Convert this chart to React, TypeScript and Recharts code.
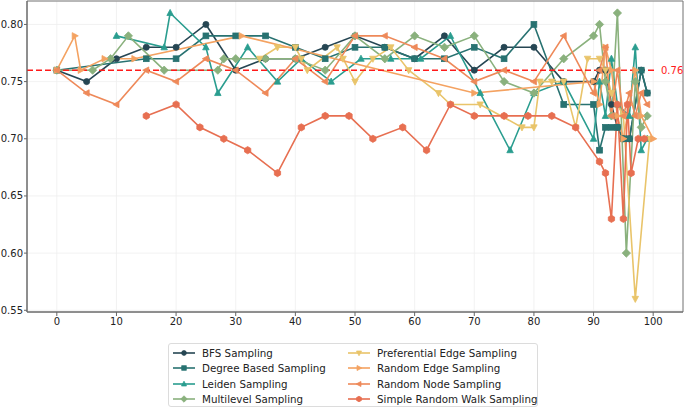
import React from 'react'
import {
  LineChart,
  Line,
  XAxis,
  YAxis,
  CartesianGrid,
  ReferenceLine,
  ReferenceArea,
} from 'recharts'

// ── Data ───────────────────────────────────────────────────
const xTicks = [0, 10, 20, 30, 40, 50, 60, 70, 80, 90, 100]
const yTicks = [0.55, 0.6, 0.65, 0.7, 0.75, 0.8]
const baseline = 0.76

const bfsX = [0, 5, 10, 15, 20, 25, 30, 35, 40, 45, 50, 55, 60, 65, 70, 75, 80, 85, 90, 91, 92, 93, 94, 95, 96, 98, 99]
const bfsY = [0.76, 0.75, 0.77, 0.78, 0.78, 0.8, 0.76, 0.77, 0.77, 0.78, 0.79, 0.78, 0.77, 0.79, 0.76, 0.78, 0.78, 0.75, 0.75, 0.76, 0.76, 0.73, 0.71, 0.7, 0.7, 0.76, 0.74]

const degreeX = [0, 15, 20, 25, 30, 35, 40, 45, 50, 55, 60, 65, 70, 75, 80, 85, 90, 91, 92, 93, 94, 95, 96, 98, 99]
const degreeY = [0.76, 0.77, 0.77, 0.79, 0.79, 0.79, 0.78, 0.77, 0.78, 0.78, 0.77, 0.77, 0.78, 0.77, 0.8, 0.73, 0.73, 0.69, 0.71, 0.71, 0.71, 0.7, 0.7, 0.76, 0.74]

const leidenX = [10, 18, 19, 25, 27, 32, 37, 41, 46, 51, 56, 61, 66, 71, 76, 80, 85, 90, 91, 92, 93, 94, 96, 97, 98, 99]
const leidenY = [0.79, 0.78, 0.81, 0.78, 0.74, 0.78, 0.75, 0.77, 0.75, 0.77, 0.77, 0.77, 0.79, 0.74, 0.69, 0.74, 0.75, 0.7, 0.75, 0.72, 0.77, 0.73, 0.72, 0.78, 0.69, 0.7]

const multiX = [0, 6, 9, 12, 18, 27, 28, 30, 35, 40, 45, 50, 55, 60, 65, 70, 75, 80, 85, 90, 91, 92, 93, 94, 95.5, 97, 98, 99]
const multiY = [0.76, 0.76, 0.77, 0.79, 0.76, 0.76, 0.77, 0.77, 0.77, 0.77, 0.76, 0.79, 0.77, 0.79, 0.78, 0.79, 0.75, 0.74, 0.77, 0.79, 0.8, 0.75, 0.72, 0.81, 0.6, 0.75, 0.71, 0.72]

const prefX = [34, 37, 40, 41, 42, 47, 48, 50, 53, 56, 59, 64, 66, 71, 78, 80, 81, 83, 85, 87, 89, 91, 92, 93, 95, 97, 99.4]
const prefY = [0.77, 0.78, 0.78, 0.77, 0.76, 0.78, 0.77, 0.75, 0.77, 0.78, 0.76, 0.74, 0.73, 0.73, 0.71, 0.71, 0.75, 0.75, 0.75, 0.71, 0.77, 0.77, 0.76, 0.74, 0.72, 0.56, 0.7]

const redgeX = [0, 3, 4, 8, 13, 31, 70, 90, 91, 92, 93, 94, 95, 96, 97, 98, 100]
const redgeY = [0.76, 0.79, 0.76, 0.77, 0.77, 0.79, 0.74, 0.75, 0.73, 0.78, 0.76, 0.72, 0.7, 0.73, 0.76, 0.72, 0.7]

const rnodeX = [0, 5, 10, 15, 20, 25, 30, 35, 40, 45, 50, 55, 60, 65, 70, 75, 80, 85, 90, 91, 92, 93, 94, 95, 96, 97, 98, 99]
const rnodeY = [0.76, 0.74, 0.73, 0.76, 0.75, 0.77, 0.76, 0.74, 0.77, 0.75, 0.79, 0.79, 0.78, 0.77, 0.75, 0.76, 0.75, 0.79, 0.74, 0.76, 0.78, 0.72, 0.76, 0.72, 0.74, 0.72, 0.74, 0.73]

const srwX = [15, 20, 24, 28, 32, 37, 41, 45, 49, 53, 58, 62, 66, 70, 75, 79, 83, 87, 91, 92, 93, 94, 95, 95.7, 96.3, 97.5, 98.5]
const srwY = [0.72, 0.73, 0.71, 0.7, 0.69, 0.67, 0.71, 0.72, 0.72, 0.7, 0.71, 0.69, 0.73, 0.72, 0.72, 0.72, 0.72, 0.71, 0.68, 0.67, 0.63, 0.73, 0.63, 0.73, 0.67, 0.7, 0.7]

// ── Series config ──────────────────────────────────────────
type Shape = 'circle' | 'square' | 'up' | 'down' | 'right' | 'left' | 'diamond' | 'hex'

const toPoints = (xs: number[], ys: number[]) => xs.map((x, i) => ({ x, y: ys[i] }))

const series: { name: string; color: string; shape: Shape; data: { x: number; y: number }[] }[] = [
  { name: 'BFS Sampling', color: '#264653', shape: 'circle', data: toPoints(bfsX, bfsY) },
  { name: 'Degree Based Sampling', color: '#287271', shape: 'square', data: toPoints(degreeX, degreeY) },
  { name: 'Leiden Sampling', color: '#2a9d8f', shape: 'up', data: toPoints(leidenX, leidenY) },
  { name: 'Multilevel Sampling', color: '#8ab17d', shape: 'diamond', data: toPoints(multiX, multiY) },
  { name: 'Preferential Edge Sampling', color: '#e9c46a', shape: 'down', data: toPoints(prefX, prefY) },
  { name: 'Random Edge Sampling', color: '#f4a261', shape: 'right', data: toPoints(redgeX, redgeY) },
  { name: 'Random Node Sampling', color: '#ee8959', shape: 'left', data: toPoints(rnodeX, rnodeY) },
  { name: 'Simple Random Walk Sampling', color: '#e76f51', shape: 'hex', data: toPoints(srwX, srwY) },
]

const FONT = '"DejaVu Sans", sans-serif'

// ── Marker shapes ──────────────────────────────────────────
function markerEl(shape: Shape, cx: number, cy: number, s: number, color: string, key?: string) {
  const poly = (pts: number[][]) => (
    <polygon key={key} points={pts.map((p) => `${cx + p[0] * s},${cy + p[1] * s}`).join(' ')} fill={color} stroke={color} strokeWidth={0.8} />
  )
  switch (shape) {
    case 'circle':
      return <circle key={key} cx={cx} cy={cy} r={s * 0.85} fill={color} stroke={color} strokeWidth={0.8} />
    case 'square':
      return <rect key={key} x={cx - s * 0.8} y={cy - s * 0.8} width={s * 1.6} height={s * 1.6} fill={color} stroke={color} strokeWidth={0.8} />
    case 'up':
      return poly([[0, -1], [0.9, 0.7], [-0.9, 0.7]])
    case 'down':
      return poly([[0, 1], [0.9, -0.7], [-0.9, -0.7]])
    case 'right':
      return poly([[1, 0], [-0.7, 0.9], [-0.7, -0.9]])
    case 'left':
      return poly([[-1, 0], [0.7, 0.9], [0.7, -0.9]])
    case 'diamond':
      return poly([[0, -1.15], [1.15, 0], [0, 1.15], [-1.15, 0]])
    default:
      return poly([[0, -1], [0.87, -0.5], [0.87, 0.5], [0, 1], [-0.87, 0.5], [-0.87, -0.5]])
  }
}

const makeDot = (shape: Shape, color: string) => (props: any) => {
  const { cx, cy, index } = props
  if (cx == null || cy == null) return <g key={`e-${index}`} />
  return markerEl(shape, cx, cy, 3.6, color, `d-${index}`)
}

// ── Reference label ────────────────────────────────────────
function RefLabel(props: any) {
  const vb = props.viewBox || {}
  const right = (vb.x ?? 27) + (vb.width ?? 656)
  const y = vb.y ?? 71.5
  return (
    <g>
      <rect x={right - 28} y={y - 8} width={27} height={16} fill="#fff" />
      <text x={right - 22} y={y + 3.5} fontSize={10} fill="#ff1a1a" fontFamily={FONT}>
        0.76
      </text>
    </g>
  )
}

// ── Legend ─────────────────────────────────────────────────
function ChartLegend() {
  return (
    <div
      style={{
        position: 'absolute',
        left: 168,
        top: 343,
        width: 370,
        height: 64,
        border: '1px solid #dcdcdc',
        borderRadius: 3,
        background: '#fff',
        boxSizing: 'border-box',
        fontFamily: FONT,
        fontSize: 10.3,
        color: '#222',
      }}
    >
      {series.map((s, i) => {
        const col = Math.floor(i / 4)
        const row = i % 4
        const left = col === 0 ? 3 : 178
        const top = 1 + row * 15.5
        return (
          <div key={s.name} style={{ position: 'absolute', left, top, height: 15, display: 'flex', alignItems: 'center', whiteSpace: 'nowrap' }}>
            <svg width={24} height={10} style={{ marginRight: 6 }}>
              <line x1={1} y1={5} x2={23} y2={5} stroke={s.color} strokeWidth={1.6} />
              {markerEl(s.shape, 12, 5, 2.8, s.color)}
            </svg>
            <span>{s.name}</span>
          </div>
        )
      })}
    </div>
  )
}

// ── Component ──────────────────────────────────────────────
export default function App() {
  const yMin = 0.5485
  const yMax = 0.8205
  return (
    <div style={{ position: 'absolute', left: 0, top: 0, width: 685, height: 409, background: '#fff' }}>
      <LineChart width={685} height={409} margin={{ top: 1, right: 2, left: 0, bottom: 77 }}>
        <CartesianGrid stroke="#efefef" strokeWidth={0.8} />
        <XAxis
          dataKey="x"
          type="number"
          domain={[-5, 105]}
          ticks={xTicks}
          allowDataOverflow
          height={20}
          tickSize={4}
          tickMargin={2}
          stroke="#666"
          tick={{ fontSize: 10, fill: '#222', fontFamily: FONT }}
        />
        <YAxis
          type="number"
          domain={[yMin, yMax]}
          ticks={yTicks}
          allowDataOverflow
          width={27}
          tickSize={3}
          tickMargin={1}
          stroke="#666"
          tickFormatter={(v: number) => v.toFixed(2)}
          tick={{ fontSize: 10, fill: '#222', fontFamily: FONT }}
        />
        <ReferenceArea x1={-5} x2={105} y1={yMin} y2={yMax} fill="none" stroke="#777" strokeWidth={1} />
        {series.map((s) => (
          <Line
            key={s.name}
            data={s.data}
            dataKey="y"
            name={s.name}
            type="linear"
            stroke={s.color}
            strokeWidth={1.6}
            dot={makeDot(s.shape, s.color)}
            activeDot={false}
            isAnimationActive={false}
          />
        ))}
        <ReferenceLine
          y={baseline}
          stroke="#ff1a1a"
          strokeWidth={1.5}
          strokeDasharray="6 3"
          label={<RefLabel />}
        />
      </LineChart>
      <ChartLegend />
    </div>
  )
}
